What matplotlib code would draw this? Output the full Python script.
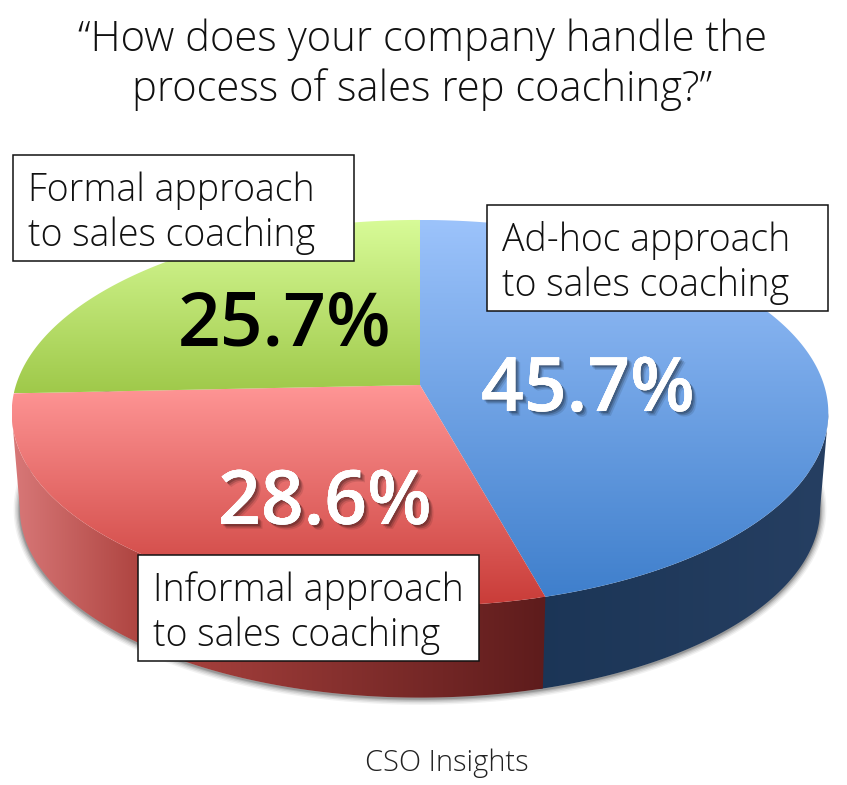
import numpy as np
from matplotlib import pyplot as plt
from matplotlib import patheffects as pe
from matplotlib.colors import to_rgb
from matplotlib.patches import Polygon, Rectangle

# pie values, clockwise from 12 o'clock
shares = [45.7, 28.6, 25.7]
pct_labels = ["45.7%", "28.6%", "25.7%"]
box_labels = [
    "Ad-hoc approach\nto sales coaching",
    "Informal approach\nto sales coaching",
    "Formal approach\nto sales coaching",
]
title_lines = ["\u201cHow does your company handle the", "process of sales rep coaching?\u201d"]
source = "CSO Insights"

top_colors = [("#9cc3fb", "#3f7fcc"), ("#ff9696", "#c93c38"), ("#d8fb98", "#9fc94a")]
side_stops = [
    ([530, 829], ["#1b3556", "#263f62"]),
    ([12, 140, 545, 560], ["#d87878", "#ae4440", "#5e1c1c", "#5e1c1c"]),
]
pct_colors = ["white", "white", "black"]
pct_pos = [(588, 392), (325, 505), (285, 326)]
box_pos = [(487, 205), (138, 555), (13, 155)]

# projection of the pie disc, in pixels
APEX_X, APEX_Y = 420, 385
A, B, K = 404, 189, 0.145
DEPTH_Y, DEPTH_SCALE = 96, 0.98
BOX_W, BOX_H = 341, 106

plt.rcParams['font.family'] = ['Open Sans', 'DejaVu Sans']

fig = plt.figure(figsize=(8.47, 7.85), dpi=100)
ax = fig.add_axes([0, 0, 1, 1])


def rim(theta, bottom=False):
    u, v = np.sin(theta), -np.cos(theta)
    w = 1 - K * v
    x, y = A * u / w, B * v / w
    if bottom:
        return APEX_X + x * DEPTH_SCALE, APEX_Y + DEPTH_Y + y * DEPTH_SCALE
    return APEX_X + x, APEX_Y + y


def gradient(poly, xs, ys, colors, vertical, zorder):
    # fill a polygon with a linear gradient by clipping an image to it
    stops, cols = colors
    t = np.linspace(stops[0], stops[-1], 256)
    rgb = np.array([to_rgb(c) for c in cols])
    line = np.stack([np.interp(t, stops, rgb[:, i]) for i in range(3)], axis=-1)
    if vertical:
        img = line[:, None, :]
        extent = (xs.min(), xs.max(), stops[-1], stops[0])
    else:
        img = line[None, :, :]
        extent = (stops[0], stops[-1], ys.max(), ys.min())
    im = ax.imshow(img, extent=extent, aspect='auto', zorder=zorder, interpolation='bilinear')
    patch = Polygon(poly, closed=True, transform=ax.transData, fc='none', ec='none')
    ax.add_patch(patch)
    im.set_clip_path(patch)


edges = np.cumsum([0] + shares) / np.sum(shares) * 2 * np.pi

# the wall only shows between the widest points of the rim
full = np.linspace(0, 2 * np.pi, 2000)
fx, fy = rim(full)
wall_from, wall_to = full[np.argmax(fx)], full[np.argmin(fx)]

# soft shadow under the base
bx, by = rim(full[::5], bottom=True)
for lw, alpha in zip([9, 7, 5, 3, 1.5], [0.05, 0.07, 0.09, 0.12, 0.15]):
    ax.add_patch(Polygon(np.column_stack([bx, by + 1]), closed=True, fc='none',
                         ec=(0, 0, 0, alpha), lw=lw, zorder=1, joinstyle='round'))

for i in range(2):
    start = max(edges[i], wall_from)
    stop = min(edges[i + 1], wall_to)
    if i == 0:
        stop += 0.012  # overlap so no seam shows under the red wall
    th = np.linspace(start, stop, 200)
    tx, ty = rim(th)
    lx, ly = rim(th, bottom=True)
    side = np.column_stack([np.r_[tx, lx[::-1]], np.r_[ty, ly[::-1]]])
    gradient(side, side[:, 0], side[:, 1], side_stops[i], False, 2 + i * 0.1)

for i in range(len(shares)):
    th = np.linspace(edges[i], edges[i + 1], 200)
    tx, ty = rim(th)
    xs = np.r_[APEX_X, tx]
    ys = np.r_[APEX_Y, ty]
    gradient(np.column_stack([xs, ys]), xs, ys,
             ([ys.min(), ys.max()], list(top_colors[i])), True, 3)

for label, color, (x, y) in zip(pct_labels, pct_colors, pct_pos):
    t = ax.text(x, y, label, color=color, fontsize=54, fontweight='semibold',
                ha='center', va='center', zorder=5)
    if color == 'white':
        shadows = [pe.withSimplePatchShadow(offset=(o, -o), shadow_rgbFace='black', alpha=a)
                   for o, a in [(3.5, 0.1), (2.5, 0.17), (1.5, 0.22)]]
        t.set_path_effects(shadows + [pe.Normal()])

for label, (x, y) in zip(box_labels, box_pos):
    ax.add_patch(Rectangle((x, y), BOX_W, BOX_H, fc='white', ec='#111111', lw=1.1, zorder=6))
    ax.text(x + 15, y + BOX_H / 2 + 5, label, fontsize=27, fontweight='light', color='#111111',
            ha='left', va='center', linespacing=1.22, zorder=7)

for line, y in zip(title_lines, [40, 90]):
    ax.text(422, y, line, fontsize=30.1, fontweight='light', color='#111111', ha='center', va='center')

ax.text(447, 763, source, fontsize=20.9, fontweight='light', color='#222222', ha='center', va='center')

ax.set_xlim(0, 847)
ax.set_ylim(785, 0)
ax.axis('off')
fig.savefig('out.png', dpi=100, facecolor='white')
